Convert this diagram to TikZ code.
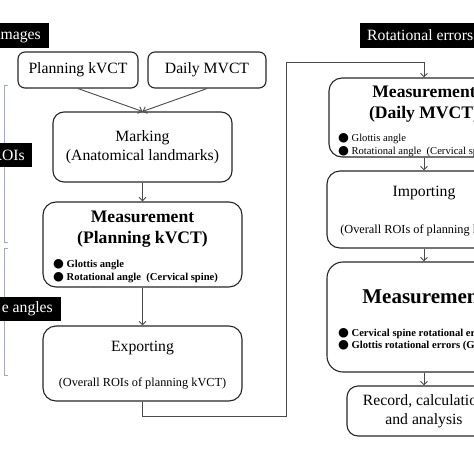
\documentclass[tikz,border=0pt]{standalone}
\usepackage{fontspec}
\setmainfont{Liberation Serif}
\newfontfamily\dejavu{DejaVu Sans}
\usetikzlibrary{arrows.meta,calc}
\newcommand\mybul{{\dejavu\fontsize{12.5}{11}\selectfont ●}\hspace{2.5pt}}
\definecolor{linegray}{HTML}{4A4A4A}
\definecolor{brack}{HTML}{A3ABBC}
\begin{document}
\begin{tikzpicture}[x=1pt,y=-1pt,
  box/.style={draw=black!85, line width=1.1pt, rounded corners=#1, inner sep=0pt, align=center},
  box/.default=7pt,
  txtN/.style={font=\fontsize{15.7}{19}\selectfont},
  txtS/.style={font=\fontsize{12.3}{14}\selectfont},
  ttlB/.style={font=\fontsize{17.6}{21}\selectfont\bfseries, align=center},
  bulB/.style={font=\fontsize{10.6}{12.5}\selectfont\bfseries, align=left, anchor=west, inner sep=0pt},
  bulN/.style={font=\fontsize{10.6}{12.5}\selectfont, align=left, anchor=west, inner sep=0pt},
  lab/.style={fill=black, text=white, font=\fontsize{15.7}{19}\selectfont, minimum height=24.5pt, inner ysep=0pt, inner xsep=8pt},
  arr/.style={draw=linegray, line width=0.9pt, -{Straight Barb[length=3.5pt,width=7pt]}},
  conn/.style={draw=linegray, line width=0.9pt}]
\useasboundingbox (0,0) rectangle (474,474);
\clip (0,0) rectangle (474,474);

% side brackets
\draw[brack, line width=0.8pt] (8,85) -- (4,85) -- (4,242) -- (8,242);
\draw[brack, line width=0.8pt] (8,248) -- (4,248) -- (4,375) -- (8,375);

% black labels
\node[lab, anchor=east] (limg) at (49,35.5) {images};
\node[lab, anchor=east, inner xsep=7pt] (lroi) at (32,155) {ROIs};
\node[lab, anchor=east] (lang) at (61,309) {e angles};
\node[lab, anchor=west, inner xsep=7pt] (lrot) at (360,35.5) {Rotational errors};

% left column
\node[box=7pt, minimum width=120pt, minimum height=36pt, txtN] (plan) at (78,70) {Planning kVCT};
\node[box=7pt, minimum width=118pt, minimum height=36pt, txtN] (daily) at (207,70) {Daily MVCT};
\node[box=11pt, minimum width=179pt, minimum height=70pt, txtN] (mark) at (142.5,147) {Marking\\(Anatomical landmarks)};
\node[box=13pt, minimum width=199pt, minimum height=85pt] (measP) at (142.5,244.5) {};
\node[ttlB] (measPt) at (142.5,229) {Measurement\\(Planning kVCT)};
\node[bulB] (measPb) at (53,271) {\mybul Glottis angle\\\mybul Rotational angle\ \ (Cervical spine)};
\node[box=13pt, minimum width=199pt, minimum height=75pt] (exp) at (142.5,363.5) {};
\node[txtN] (expt) at (142.5,348) {Exporting};
\node[txtS] (exps) at (142.5,383) {(Overall ROIs of planning kVCT)};

% right column
\node[box=13pt, minimum width=190pt, minimum height=79pt] (measD) at (424,117.5) {};
\node[ttlB] (measDt) at (424,104) {Measurement\\(Daily MVCT)};
\node[bulN] (measDb) at (338,145) {\mybul Glottis angle\\\mybul Rotational angle\ \ (Cervical spine)};
\node[box=13pt, minimum width=194pt, minimum height=77pt] (imp) at (424,209.5) {};
\node[txtN] (impt) at (424,193) {Importing};
\node[txtS] (imps) at (424,230) {(Overall ROIs of planning kVCT)};
\node[box=16pt, minimum width=194pt, minimum height=110pt] (measE) at (424,317) {};
\node[font=\fontsize{21}{24}\selectfont\bfseries] (measEt) at (424,297) {Measurement};
\node[bulB] (measEb) at (338,339.5) {\mybul Cervical spine rotational errors\\\mybul Glottis rotational errors (Glottis angle)};
\node[box=11pt, minimum width=154pt, minimum height=50pt, txtN] (rec) at (424,411) {Record, calculation\\and analysis};

% connectors
\draw[arr] (plan.south) -- (mark.north);
\draw[arr] (daily.south) -- (mark.north);
\draw[arr] (mark.south) -- (measP.north);
\draw[arr] (measP.south) -- (exp.north);
\coordinate (turnA) at (286,416);
\coordinate (turnB) at (286,62);
\draw[arr] (exp.south) |- (turnA) -- (turnB) -| (measD.north);
\draw[arr] (measD.south) -- (imp.north);
\draw[arr] (imp.south) -- (measE.north);
\draw[arr] (measE.south) -- (rec.north);
\end{tikzpicture}
\end{document}
